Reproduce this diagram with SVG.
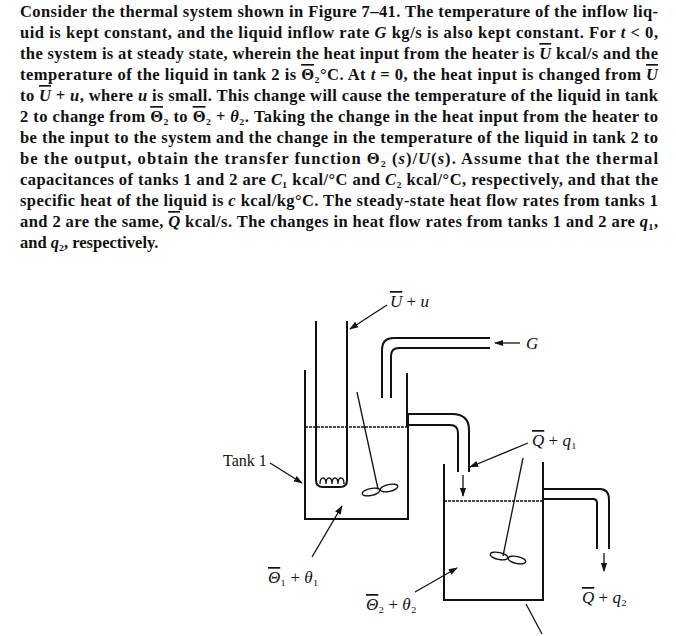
<svg xmlns="http://www.w3.org/2000/svg" width="676" height="636" viewBox="0 0 676 636">
<style>
.p{font-family:"Liberation Serif",serif;font-size:16.5px;font-weight:bold;fill:#111}
.l{font-family:"Liberation Serif",serif;font-size:17px;fill:#111}
.i{font-style:italic}
.o{text-decoration:overline}
.s{fill:none;stroke:#111;stroke-width:2}
.t{fill:none;stroke:#111;stroke-width:1.3}
.d{fill:none;stroke:#111;stroke-width:1.5;stroke-dasharray:3 1}
</style>
<defs><marker id="a" viewBox="0 0 10 10" refX="9" refY="5" markerWidth="7" markerHeight="7" orient="auto"><path d="M0,1.5L10,5L0,8.5z" fill="#111"/></marker></defs>
<g id="text" class="p">
<text x="20" y="17" textLength="638" lengthAdjust="spacing">Consider the thermal system shown in Figure 7–41. The temperature of the inflow liq-</text>
<text x="20" y="38" textLength="638" lengthAdjust="spacing">uid is kept constant, and the liquid inflow rate <tspan class="i">G</tspan> kg/s is also kept constant. For <tspan class="i">t</tspan> &lt; 0,</text>
<text x="20" y="59" textLength="638" lengthAdjust="spacing">the system is at steady state, wherein the heat input from the heater is <tspan class="i o">U</tspan> kcal/s and the</text>
<text x="20" y="80" textLength="638" lengthAdjust="spacing">temperature of the liquid in tank 2 is <tspan class="o">Θ</tspan>₂°C. At <tspan class="i">t</tspan> = 0, the heat input is changed from <tspan class="i o">U</tspan></text>
<text x="20" y="101" textLength="638" lengthAdjust="spacing">to <tspan class="i o">U</tspan> + <tspan class="i">u</tspan>, where <tspan class="i">u</tspan> is small. This change will cause the temperature of the liquid in tank</text>
<text x="20" y="122" textLength="638" lengthAdjust="spacing">2 to change from <tspan class="o">Θ</tspan>₂ to <tspan class="o">Θ</tspan>₂ + <tspan class="i">θ</tspan>₂. Taking the change in the heat input from the heater to</text>
<text x="20" y="143" textLength="638" lengthAdjust="spacing">be the input to the system and the change in the temperature of the liquid in tank 2 to</text>
<text x="20" y="164" textLength="638" lengthAdjust="spacing">be the output, obtain the transfer function Θ₂ (<tspan class="i">s</tspan>)/<tspan class="i">U</tspan>(<tspan class="i">s</tspan>). Assume that the thermal</text>
<text x="20" y="185" textLength="638" lengthAdjust="spacing">capacitances of tanks 1 and 2 are <tspan class="i">C</tspan>₁ kcal/°C and <tspan class="i">C</tspan>₂ kcal/°C, respectively, and that the</text>
<text x="20" y="206" textLength="638" lengthAdjust="spacing">specific heat of the liquid is <tspan class="i">c</tspan> kcal/kg°C. The steady-state heat flow rates from tanks 1</text>
<text x="20" y="227" textLength="638" lengthAdjust="spacing">and 2 are the same, <tspan class="i o">Q</tspan> kcal/s. The changes in heat flow rates from tanks 1 and 2 are <tspan class="i">q</tspan>₁,</text>
<text x="20" y="248">and <tspan class="i">q</tspan>₂, respectively.</text>
</g>
<g id="tank1">
<path class="s" d="M305,370V519H408V414H452Q469,414 469,430V472"/>
<path class="s" d="M407,373V427M408,425H450Q458,425 458,433V472"/>
<path class="d" d="M305,427H407"/>
</g>
<g id="heater">
<path class="s" d="M316,321V480Q316,487 323,487H340Q347,487 347,480V321"/>
<path class="t" d="M320,484c0,-8 6,-8 6,0c0,-8 6,-8 6,0c0,-8 6,-8 6,0c0,-8 6,-8 6,0"/>
</g>
<g id="stirrer1">
<path class="t" d="M357,392L378,489"/>
<ellipse class="t" cx="371" cy="492" rx="9" ry="3.5" transform="rotate(-12 371 492)"/>
<ellipse class="t" cx="389" cy="488" rx="9" ry="3.5" transform="rotate(-12 389 488)"/>
</g>
<g id="inflow">
<path class="s" d="M382,398V350Q382,338 394,338H490"/>
<path class="s" d="M391,398V356Q391,348 399,348H490"/>
</g>
<g id="tank2">
<path class="s" d="M444,464V600H543V462"/>
<path class="s" d="M543,462V489H600Q609,489 609,500V549"/>
<path class="s" d="M543,499H593Q597,499 597,503V549"/>
<path class="d" d="M444,501H543"/>
</g>
<g id="stirrer2">
<path class="t" d="M523,458L503,556"/>
<ellipse class="t" cx="499" cy="556" rx="9" ry="3.5" transform="rotate(12 499 556)"/>
<ellipse class="t" cx="517" cy="560" rx="9" ry="3.5" transform="rotate(12 517 560)"/>
</g>
<g id="connectors" class="t">
<path d="M387,305L350,329" marker-end="url(#a)"/>
<path d="M520,343H495" marker-end="url(#a)"/>
<path d="M528,443L470,467" marker-end="url(#a)"/>
<path d="M270,463L302,483" marker-end="url(#a)"/>
<path d="M312,557L342,506" marker-end="url(#a)"/>
<path d="M463,475V496" marker-end="url(#a)"/>
<path d="M604,553V571" marker-end="url(#a)"/>
<path d="M415,592L457,568" marker-end="url(#a)"/>
<path d="M526,604L542,634"/>
</g>
<g id="labels" class="l">
<text x="390" y="307"><tspan class="i o">U</tspan> + <tspan class="i">u</tspan></text>
<text x="526" y="349" class="i">G</text>
<text x="532" y="446"><tspan class="i o">Q</tspan> + <tspan class="i">q</tspan>₁</text>
<text x="223" y="466" font-size="16">Tank 1</text>
<text x="268" y="583"><tspan class="i o">Θ</tspan>₁ + <tspan class="i">θ</tspan>₁</text>
<text x="366" y="610"><tspan class="i o">Θ</tspan>₂ + <tspan class="i">θ</tspan>₂</text>
<text x="582" y="603"><tspan class="i o">Q</tspan> + <tspan class="i">q</tspan>₂</text>
</g>
</svg>
